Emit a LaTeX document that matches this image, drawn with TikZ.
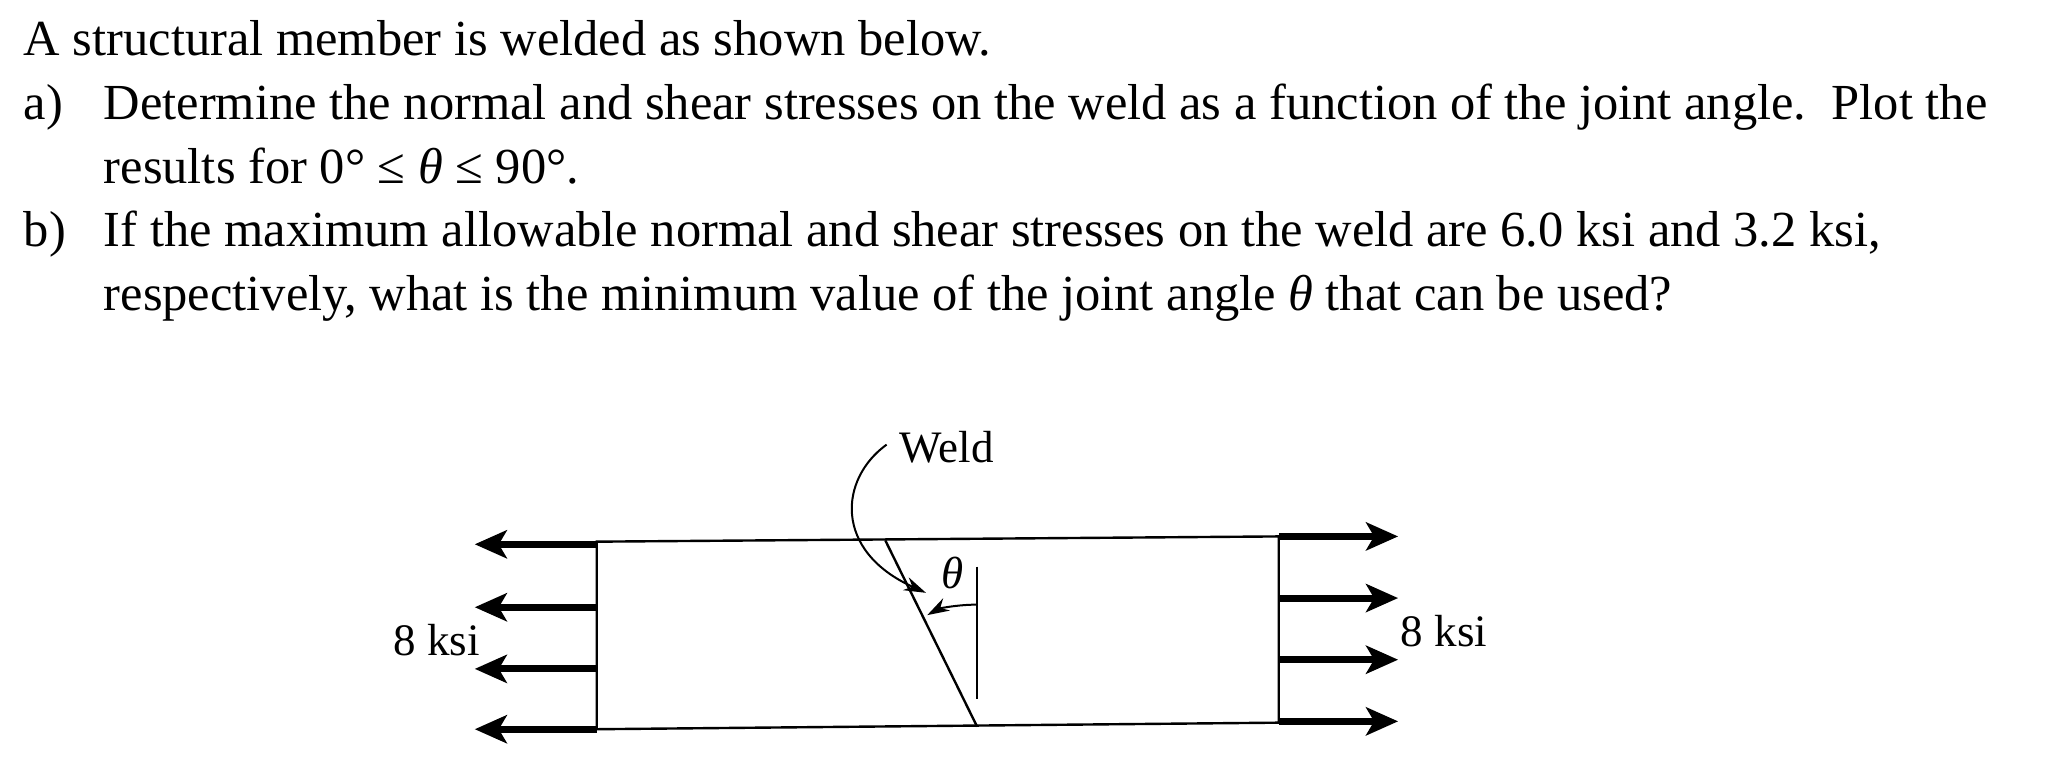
\documentclass[tikz,border=0pt]{standalone}
\usepackage{fontspec}
\setmainfont{Liberation Serif}
\usetikzlibrary{arrows.meta}
\begin{document}
\begin{tikzpicture}[x=1.3115pt,y=-1.3115pt,
  body/.style={anchor=base west,inner sep=0pt,font=\fontsize{50.5}{60}\selectfont},
  lab/.style={inner sep=0pt,font=\fontsize{45}{52}\selectfont},
  thin/.style={line width=2.4pt},
  force/.style={line width=7pt,-{Stealth[length=32pt,width=28pt,inset=8pt]}},
  lead/.style={line width=2pt,-{Stealth[length=22pt,width=14pt]}}]
\useasboundingbox (0,0) rectangle (1560,596);
% text
\node[body] (t0) at (18,42) {A structural member is welded as shown below.};
\node[body] (la) at (18,91) {a)};
\node[body] (ta) at (79,91) {Determine the normal and shear stresses on the weld as a function of the joint angle.\ \ Plot the};
\node[body] (ta2) at (79,140) {results for 0° ≤ \textit{θ} ≤ 90°.};
\node[body] (lb) at (18,188) {b)};
\node[body] (tb) at (79,188) {If the maximum allowable normal and shear stresses on the weld are 6.0 ksi and 3.2 ksi,};
\node[body] (tb2) at (79,237) {respectively, what is the minimum value of the joint angle \textit{θ} that can be used?};
% box
\coordinate (tl) at (455,413);
\coordinate (tr) at (975,409);
\coordinate (bl) at (455,556);
\coordinate (br) at (975,551);
\draw[thin] (tl) -- (tr) -- (br) -- (bl) -- cycle;
% weld
\coordinate (wt) at (675,412);
\coordinate (wb) at (745,554);
\draw[thin] (wt) -- (wb);
\coordinate (vt) at (745,432);
\coordinate (vb) at (745,533);
\draw[thin] (vt) -- (vb);
% left arrows
\foreach \y [count=\i] in {415,463,510,556}{
  \coordinate (lt\i) at (455,\y); \coordinate (lh\i) at (362,\y);
  \draw[force] (lt\i) -- (lh\i);}
% right arrows
\foreach \y [count=\i] in {409,456,503,550}{
  \coordinate (rt\i) at (975,\y); \coordinate (rh\i) at (1066,\y);
  \draw[force] (rt\i) -- (rh\i);}
% labels
\node[lab,anchor=base west] (weld) at (686,353) {Weld};
\node[lab] (th) at (726,437) {\textit{θ}};
\node[lab,anchor=base] (kl) at (333,500) {8 ksi};
\node[lab,anchor=base] (kr) at (1101,493) {8 ksi};
% leader
\coordinate (ls) at (676,339);
\coordinate (le) at (706,452);
\draw[lead] (ls) .. controls (640,365) and (635,420) .. (le);
% angle arrow
\coordinate (as) at (745,461);
\coordinate (ae) at (707,469);
\draw[lead] (as) .. controls (730,461) and (716,464) .. (ae);
\end{tikzpicture}
\end{document}
